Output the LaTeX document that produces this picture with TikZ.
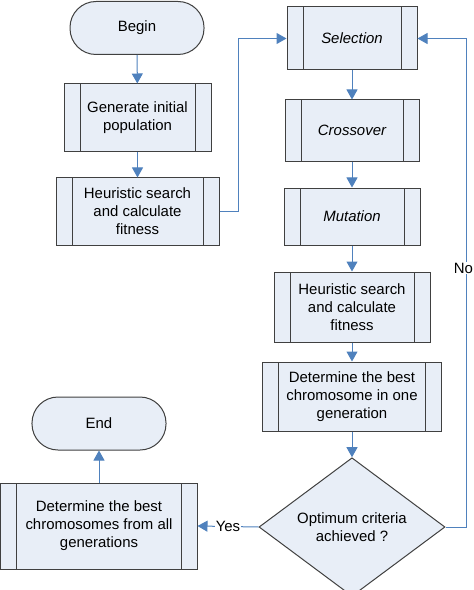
\documentclass[tikz,border=0pt]{standalone}
\usepackage{fontspec}
\setmainfont{Liberation Sans}
\usetikzlibrary{shapes.geometric,arrows.meta}
\definecolor{boxfill}{RGB}{232,238,247}
\definecolor{boxline}{RGB}{64,64,64}
\definecolor{arr}{RGB}{79,129,189}
\begin{document}
\begin{tikzpicture}[x=1bp,y=-1bp,font=\fontsize{15}{18}\selectfont,
  proc/.style={draw=boxline, fill=boxfill, line width=1bp, align=center, inner sep=0pt,
    path picture={\draw[boxline, line width=1bp]
      ([xshift=16bp]path picture bounding box.north west) -- ([xshift=16bp]path picture bounding box.south west)
      ([xshift=-16bp]path picture bounding box.north east) -- ([xshift=-16bp]path picture bounding box.south east);}},
  term/.style={draw=boxline, fill=boxfill, line width=1bp, rounded corners=26bp,
    minimum width=134bp, minimum height=53bp, inner sep=0pt},
  dec/.style={draw=boxline, fill=boxfill, line width=1bp, diamond, align=center,
    minimum width=186bp, minimum height=128bp, inner sep=0pt},
  flow/.style={draw=arr, line width=1bp, -{Triangle[length=10bp,width=11bp]}},
  lab/.style={fill=white, inner sep=1bp}]
\useasboundingbox (0,0) rectangle (474,590);
\node[term] (begin) at (137,28) {Begin};
\node[proc, minimum width=147bp, minimum height=67bp] (gen) at (137.5,117.5) {Generate initial\\population};
\node[proc, minimum width=163bp, minimum height=67bp] (heur1) at (137.5,211.5) {Heuristic search\\and calculate\\fitness};
\node[proc, minimum width=130bp, minimum height=63bp] (sel) at (352,38.5) {\itshape Selection};
\node[proc, minimum width=134bp, minimum height=61bp] (cross) at (352,130.5) {\itshape Crossover};
\node[proc, minimum width=136bp, minimum height=57bp] (mut) at (352,216.5) {\itshape Mutation};
\node[proc, minimum width=156bp, minimum height=70bp] (heur2) at (352,307) {Heuristic search\\and calculate\\fitness};
\node[proc, minimum width=179bp, minimum height=69bp] (det) at (352,396.5) {Determine the best\\chromosome in one\\generation};
\node[dec] (dia) at (352,527) {Optimum criteria\\achieved ?};
\node[term] (end) at (99,423.5) {End};
\node[proc, minimum width=196bp, minimum height=86bp] (all) at (99,526) {Determine the best\\chromosomes from all\\generations};
\coordinate (c1) at (238,211.5);
\coordinate (c2) at (238,38.5);
\coordinate (n1) at (466,527);
\coordinate (n2) at (466,38.5);
\draw[flow] (begin) -- (gen);
\draw[flow] (gen) -- (heur1);
\draw[flow] (heur1.east) -- (c1) -- (c2) -- (sel.west);
\draw[flow] (sel) -- (cross);
\draw[flow] (cross) -- (mut);
\draw[flow] (mut) -- (heur2);
\draw[flow] (heur2) -- (det);
\draw[flow] (det) -- (dia);
\draw[flow] (dia.east) -- (n1) -- (n2) -- (sel.east);
\node[lab] (no) at (463.5,268) {No};
\draw[flow] (dia.west) -- node[lab] (yes) {Yes} (all.east);
\draw[flow] (all) -- (end);
\end{tikzpicture}
\end{document}
